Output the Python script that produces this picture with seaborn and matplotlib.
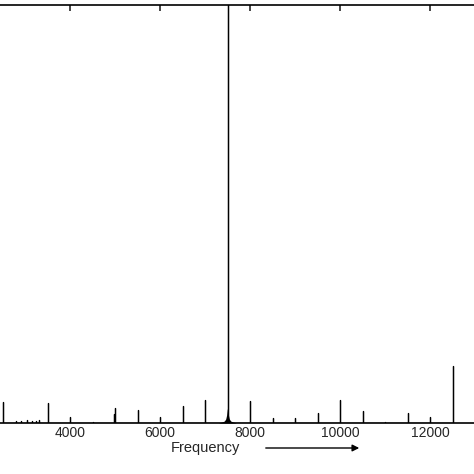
import numpy as np
import pandas as pd
import seaborn as sns
import matplotlib.pyplot as plt

# stick spectrum: peak frequency and height (arbitrary units, axis top = 416)
peak_freq = [2520, 2800, 2900, 3050, 3150, 3250, 3300, 3500, 4000, 4500, 5000, 4980,
             5500, 6000, 6500, 7000, 7500, 8000, 8500, 9000, 9500, 10000, 10500,
             11000, 11500, 12000, 12500]
peak_height = [21, 2, 2, 3, 2, 2, 3, 20, 6, 1, 15, 9,
               13, 6, 17, 23, 480, 22, 5, 5, 10, 23, 12,
               1, 10, 6, 57]
# broad base under the main line
bump_freq = [7300, 7380, 7430, 7460, 7480, 7495, 7505, 7520, 7540, 7570, 7620, 7700]
bump_height = [0, 1, 2, 4, 8, 14, 14, 8, 4, 2, 1, 0]

rows = []
for f, h in zip(peak_freq, peak_height):
    rows += [(f, 0), (f, h), (f, 0)]
stems = pd.DataFrame(rows, columns=['freq', 'amp'])
bump = pd.DataFrame({'freq': bump_freq, 'amp': bump_height})

sns.set_style('white')
plt.rcParams['font.family'] = ['Liberation Sans', 'DejaVu Sans']
fig = plt.figure(figsize=(4.74, 4.74), dpi=100)
ax = fig.add_axes([0, (474 - 423) / 474, 1, (423 - 5) / 474])

ax.fill_between(bump['freq'], bump['amp'], color='black', lw=0)
sns.lineplot(data=stems, x='freq', y='amp', sort=False, estimator=None,
             color='black', lw=0.9, ax=ax)

ax.set_xlim(2444, 12977)
ax.set_ylim(0, 418)
ax.set_xticks([4000, 6000, 8000, 10000, 12000])
ax.set_yticks([])
ax.tick_params(axis='x', direction='in', top=True, bottom=False, length=4,
               width=1.2, labelsize=10, pad=2)
for s in ['left', 'right']:
    ax.spines[s].set_visible(False)
for s in ['top', 'bottom']:
    ax.spines[s].set_linewidth(1.2)
    ax.spines[s].set_color('black')
ax.set_xlabel('')
ax.set_ylabel('')

fig.text(205 / 474, 1 - 448 / 474, 'Frequency', ha='center', va='center',
         fontsize=10.5)
fig.add_artist(plt.matplotlib.patches.FancyArrowPatch(
    (263 / 474, 1 - 448 / 474), (362 / 474, 1 - 448 / 474),
    transform=fig.transFigure, arrowstyle='-|>', mutation_scale=10,
    color='black', lw=1))

fig.savefig('out.png', dpi=100)
